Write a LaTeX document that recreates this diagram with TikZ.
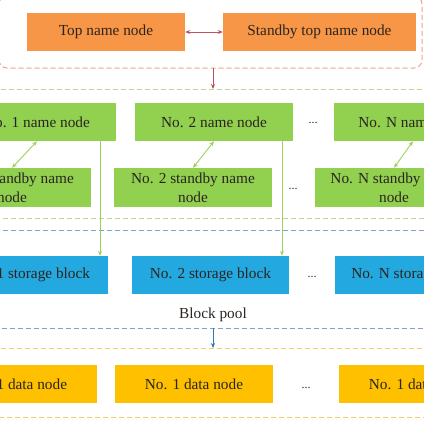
\documentclass[tikz,border=0pt]{standalone}
\usepackage{fontspec}
\setmainfont{Liberation Serif}
\usetikzlibrary{arrows.meta}
\definecolor{cOrange}{HTML}{F79646}
\definecolor{cGreen}{HTML}{92D050}
\definecolor{cBlue}{HTML}{24A8E0}
\definecolor{cText}{HTML}{2A2420}
\definecolor{cYellow}{HTML}{FFC000}
\definecolor{dOrange}{HTML}{EBA488}
\definecolor{dGreen}{HTML}{BCDB90}
\definecolor{dBlue}{HTML}{78A3D0}
\definecolor{dYellow}{HTML}{F1CF62}
\definecolor{aRed}{HTML}{C0505A}
\definecolor{aGreen}{HTML}{9CD15C}
\definecolor{aBlue}{HTML}{2E78B8}
\tikzset{
  box/.style={inner sep=0pt, minimum height=38pt, minimum width=158pt, text=cText,
    font=\fontsize{15.3}{19}\selectfont, align=center},
  obox/.style={box, fill=cOrange},
  gbox/.style={box, fill=cGreen},
  bbox/.style={box, fill=cBlue},
  ybox/.style={box, fill=cYellow},
  dots/.style={text=cText, font=\fontsize{12}{14}\selectfont, inner sep=0pt},
  grp/.style={dashed, dash pattern=on 5pt off 3pt, line width=1pt},
  tip/.style={-{Stealth[length=5pt,width=4pt]}, line width=0.9pt},
  dtip/.style={{Stealth[length=5pt,width=4pt]}-{Stealth[length=5pt,width=4pt]}, line width=0.9pt}
}
\begin{document}
\begin{tikzpicture}[x=1pt,y=-1pt]
\useasboundingbox (0,0) rectangle (424,424);
\clip (0,0) rectangle (424,424);
% group frames
\draw[grp, dOrange, rounded corners=8pt] (-1,-4) rectangle (422,68);
\draw[grp, dGreen] (-20,89) rectangle (444,218);
\draw[grp, dBlue] (-20,230) rectangle (444,328);
\draw[grp, dYellow] (-20,348) rectangle (444,417);
\coordinate (topbot) at (213,68);
\coordinate (greentop) at (213,89);
\coordinate (bluebot) at (213,328);
\coordinate (yellowtop) at (213,348);
% top row
\node[obox] (top) at (106,32) {Top name node};
\node[obox, minimum width=193pt] (stop) at (319.5,32) {Standby top name node};
\draw[dtip, aRed] (top.east) -- (stop.west);
\draw[tip, aRed] (topbot) -- (greentop);
% name nodes
\node[gbox] (n1) at (37,122) {No. 1 name node};
\node[gbox] (n2) at (214,122) {No. 2 name node};
\node[dots] (dn) at (313,123) {...};
\node[gbox] (nN) at (413,122) {No. N name node};
% standby nodes
\node[gbox, minimum height=39pt] (s1) at (12,187.5) {No. 1 standby name\\node};
\node[gbox, minimum height=39pt] (s2) at (193,187.5) {No. 2 standby name\\node};
\node[dots] (ds) at (293,189) {...};
\node[gbox, minimum height=39pt] (sN) at (394,187.5) {No. N standby name\\node};
\draw[dtip, aGreen] (n1.south) -- (s1.north);
\draw[dtip, aGreen] (n2.south) -- (s2.north);
\draw[dtip, aGreen] (nN.south) -- (sN.north);
% storage blocks
\node[bbox, minimum width=157pt] (b1) at (29.5,275) {No. 1 storage block};
\node[bbox, minimum width=157pt] (b2) at (210.5,275) {No. 2 storage block};
\node[dots] (db) at (312,277) {...};
\node[bbox, minimum width=157pt] (bN) at (413.5,275) {No. N storage block};
\draw[tip, aGreen] (n1.south -| 100,0) -- (b1.north -| 100,0);
\draw[tip, aGreen] (n2.south -| 282,0) -- (b2.north -| 282,0);
\node[text=cText, font=\fontsize{15.3}{19}\selectfont, inner sep=0pt] (pool) at (213,315) {Block pool};
\draw[tip, aBlue] (bluebot) -- (yellowtop);
% data nodes
\node[ybox] (d1) at (18,384) {No. 1 data node};
\node[ybox] (d2) at (194,384) {No. 1 data node};
\node[dots] (dd) at (306,388) {...};
\node[ybox] (dN) at (418,384) {No. 1 data node};
\end{tikzpicture}
\end{document}
